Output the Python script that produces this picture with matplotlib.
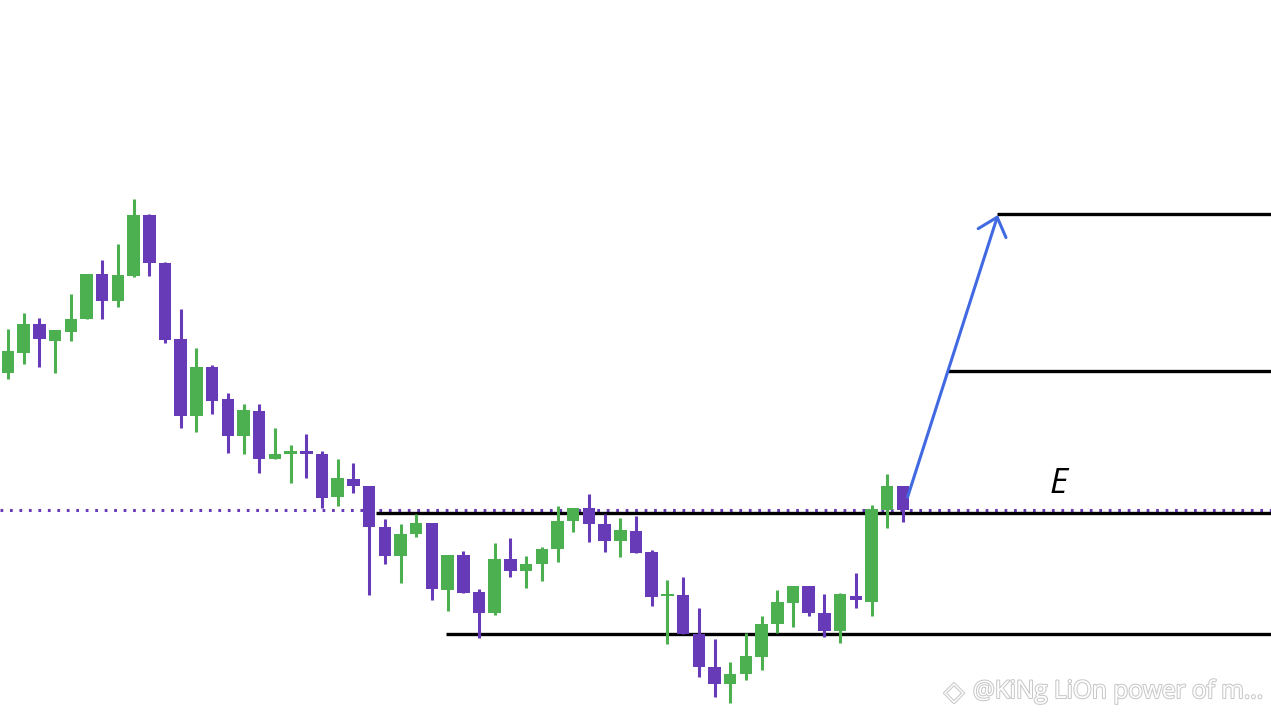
import matplotlib
matplotlib.use("Agg")
import matplotlib.pyplot as plt
import matplotlib.patheffects as pe

# OHLC (price units)
opens  = [342, 362, 391, 374, 383, 396, 441, 414, 439, 500, 452, 376, 299, 348, 316, 279, 304, 256, 261, 264,
          261, 218, 236, 229, 188, 159, 181, 192, 125, 160, 123, 102, 156, 144, 151, 166, 194, 207, 191, 174,
          184, 163, 119, 120, 81, 48, 31, 41, 58, 91, 112, 129, 102, 84, 119, 113, 205, 229]
closes = [364, 391, 376, 385, 396, 441, 414, 440, 500, 452, 375, 299, 348, 314, 279, 305, 256, 261, 264, 261,
          217, 237, 229, 188, 159, 181, 192, 126, 160, 122, 102, 156, 144, 151, 166, 194, 207, 191, 174, 185,
          162, 118, 121, 81, 48, 31, 41, 59, 91, 113, 129, 102, 84, 121, 115, 206, 229, 205]
highs  = [386, 402, 397, 385, 421, 441, 455, 471, 516, 501, 453, 406, 367, 350, 322, 311, 311, 287, 270, 281,
          264, 256, 252, 229, 196, 191, 201, 192, 160, 164, 126, 172, 177, 159, 168, 209, 207, 221, 201, 197,
          199, 165, 135, 138, 107, 76, 53, 82, 99, 125, 129, 129, 121, 122, 142, 210, 241, 229]
lows   = [336, 351, 348, 342, 374, 396, 396, 408, 438, 439, 372, 287, 283, 301, 262, 261, 242, 256, 232, 237,
          207, 209, 222, 120, 151, 132, 178, 115, 104, 122, 77, 100, 138, 127, 134, 153, 183, 173, 163, 158,
          162, 109, 71, 81, 38, 18, 12, 35, 45, 82, 88, 99, 78, 72, 107, 99, 187, 193]

# Horizontal levels: (price, start index)
levels = [(202, 23.45), (81, 27.9), (344, 59.87), (501, 63.0)]
dotted_level = 205
arrow_start = (57.3, 218)
arrow_end = (63.05, 500)
label_E = "E"
watermark = "@KiNg LiOn power of m..."

GREEN = "#4caf50"
PURPLE = "#673ab7"
BLUE = "#4169e1"

fig = plt.figure(figsize=(12.71, 7.15), dpi=100)
ax = fig.add_axes([0, 0, 1, 1])
ax.set_xlim(-8 / 15.7, (1271 - 8) / 15.7)
ax.set_ylim(0, 715)
ax.axis("off")

# dotted level
ax.axhline(dotted_level, color=PURPLE, lw=2.2, ls=(0, (0.9, 2.2)), zorder=1)
for y, x0 in levels:
    ax.plot([x0, 200], [y, y], color="black", lw=2.4, zorder=1, solid_capstyle="butt")

bw = 0.8
for i, (o, c, h, l) in enumerate(zip(opens, closes, highs, lows)):
    col = GREEN if c >= o else PURPLE
    ax.plot([i, i], [l, h], color=col, lw=2.2, zorder=2, solid_capstyle="butt")
    lo, hi = min(o, c), max(o, c)
    ax.bar(i, max(hi - lo, 2.5), bottom=lo, width=bw, color=col, zorder=3, linewidth=0)

# arrow with open head
ax.annotate("", xy=arrow_end, xytext=arrow_start,
            arrowprops=dict(arrowstyle="->,head_length=1.2,head_width=1.05", color=BLUE, lw=2.2,
                            shrinkA=0, shrinkB=0),
            zorder=4)

ax.text(66.9, 231, label_E, fontsize=25, style="italic", family="Open Sans",
        ha="center", va="center", color="black")

ax.text((1263 - 8) / 15.7, 23, watermark, fontsize=17.6, family="Open Sans",
        ha="right", va="center", color="white",
        path_effects=[pe.withStroke(linewidth=1.5, foreground="#c8c8c8")], zorder=5)
ax.text((954 - 8) / 15.7, 22, "◇", fontsize=19, family="DejaVu Sans", ha="center", va="center",
        color="white", path_effects=[pe.withStroke(linewidth=1.5, foreground="#c8c8c8")], zorder=5)

fig.savefig("out.png", dpi=100, facecolor="white")
